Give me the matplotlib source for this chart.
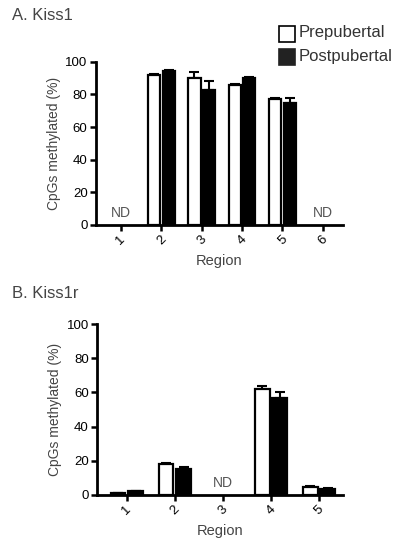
import numpy as np
import matplotlib.pyplot as plt

plt.rcParams['font.family'] = ['Liberation Sans', 'DejaVu Sans']

nan = np.nan

# A. Kiss1
kiss1_regions = ['1', '2', '3', '4', '5', '6']
kiss1_pre = [nan, 92, 90, 86, 77, nan]
kiss1_pre_err = [nan, 0.5, 4, 0.5, 0.5, nan]
kiss1_post = [nan, 94.5, 83, 90, 74.5, nan]
kiss1_post_err = [nan, 0.3, 5.5, 0.8, 3.5, nan]

# B. Kiss1r
kiss1r_regions = ['1', '2', '3', '4', '5']
kiss1r_pre = [1, 18, nan, 62, 4.5]
kiss1r_pre_err = [0.2, 0.6, nan, 2, 0.6]
kiss1r_post = [2, 15, nan, 57, 3.5]
kiss1r_post_err = [0.2, 1.5, nan, 3.3, 0.3]

grey = '#444444'


def panel(ax, regions, pre, pre_err, post, post_err):
    x = np.arange(1, len(regions) + 1)
    w = 0.3
    off = 0.18
    ax.bar(x - off, pre, w, color='white', edgecolor='black', linewidth=1.6, zorder=2)
    ax.bar(x + off, post, w, color='black', edgecolor='black', linewidth=1.6, zorder=2)
    z = np.zeros(len(x))
    ax.errorbar(x - off, pre, yerr=[z, pre_err], fmt='none', ecolor='black',
                elinewidth=1.5, capsize=3.5, capthick=1.5, zorder=1)
    ax.errorbar(x + off, post, yerr=[z, post_err], fmt='none', ecolor='black',
                elinewidth=1.5, capsize=3.5, capthick=1.5, zorder=1)
    # regions without data
    for xi, v in zip(x, pre):
        if np.isnan(v):
            ax.text(xi, 3, 'ND', ha='center', va='bottom', fontsize=10, color='#555555')

    ax.set_ylim(0, 100)
    ax.set_xlim(x[0] - 0.62, x[-1] + 0.5)
    ax.set_yticks([0, 20, 40, 60, 80, 100])
    ax.set_xticks(x)
    ax.set_xticklabels(regions, rotation=45, ha='center')
    for s in ['top', 'right']:
        ax.spines[s].set_visible(False)
    for s in ['left', 'bottom']:
        ax.spines[s].set_linewidth(2)
    ax.tick_params(axis='both', width=1.8, length=4, labelsize=9.5, colors='black', pad=2)
    ax.set_ylabel('CpGs methylated (%)', fontsize=10, color=grey, labelpad=3)
    ax.set_xlabel('Region', fontsize=10.5, color=grey, labelpad=5)


fig = plt.figure(figsize=(3.98, 5.42), dpi=100)

ax1 = fig.add_axes([0.241, 0.585, 0.621, 0.301])
panel(ax1, kiss1_regions, kiss1_pre, kiss1_pre_err, kiss1_post, kiss1_post_err)
fig.text(0.03, 0.972, 'A. Kiss1', fontsize=12, color=grey, va='center')

ax2 = fig.add_axes([0.244, 0.087, 0.618, 0.315])
panel(ax2, kiss1r_regions, kiss1r_pre, kiss1r_pre_err, kiss1r_post, kiss1r_post_err)
fig.text(0.03, 1 - 293 / 542, 'B. Kiss1r', fontsize=12, color=grey, va='center')

# legend squares
fig.patches.append(plt.Rectangle((279 / 398, 1 - 42 / 542), 16 / 398, 16 / 542,
                                 transform=fig.transFigure, facecolor='white',
                                 edgecolor='black', linewidth=1.2))
fig.patches.append(plt.Rectangle((279 / 398, 1 - 65 / 542), 16 / 398, 16 / 542,
                                 transform=fig.transFigure, facecolor='#222222',
                                 edgecolor='#222222', linewidth=1.2))
fig.text(299 / 398, 1 - 33 / 542, 'Prepubertal', fontsize=12, color='#333333', va='center')
fig.text(299 / 398, 1 - 57 / 542, 'Postpubertal', fontsize=12, color='#333333', va='center')

fig.savefig('out.png', dpi=100)
